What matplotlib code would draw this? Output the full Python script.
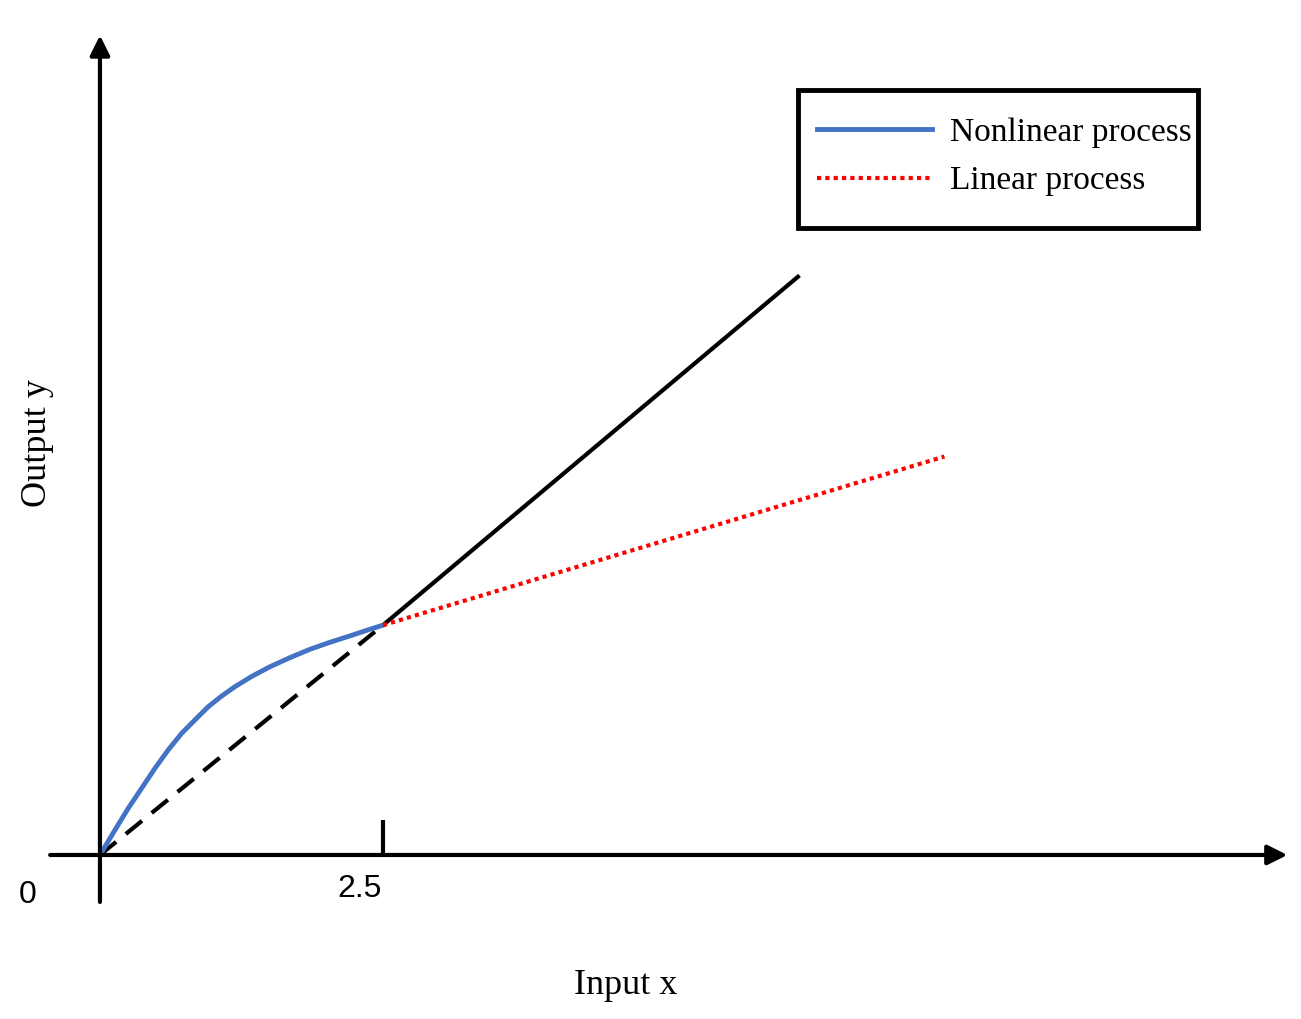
import numpy as np
import matplotlib.pyplot as plt
from matplotlib.patches import Rectangle

# values (the only labelled x value is the 2.5 tick)
nonlinear_x = [0, 0.133, 0.25, 0.368, 0.486, 0.603, 0.722, 0.839, 0.957, 1.075,
               1.193, 1.34, 1.502, 1.678, 1.855, 2.032, 2.208, 2.385, 2.5]
nonlinear_y = [0, 0.221, 0.413, 0.589, 0.766, 0.928, 1.075, 1.193, 1.31, 1.404,
               1.487, 1.577, 1.663, 1.743, 1.817, 1.879, 1.935, 1.994, 2.03]
linear_x = [2.5, 7.46]
linear_y = [2.03, 3.52]
tangent_x = [0, 2.5, 6.18]
tangent_y = [0, 2.03, 5.12]
tick_x = 2.5

fig = plt.figure(figsize=(13.01, 10.19), dpi=100)
ax = fig.add_axes([0, 0, 1, 1])
ax.set_xlim(-0.883, 10.61)
ax.set_ylim(-1.449, 7.553)
ax.axis('off')

# axes drawn as arrows
arrow = dict(arrowstyle='-|>,head_length=0.7,head_width=0.35', lw=3, color='black',
             mutation_scale=17, shrinkA=0, shrinkB=0)
ax.annotate('', xy=(10.49, 0), xytext=(-0.44, 0), arrowprops=arrow)
ax.annotate('', xy=(0, 7.24), xytext=(0, -0.415), arrowprops=arrow)
ax.plot([tick_x, tick_x], [0, 0.31], color='black', lw=3, solid_capstyle='butt')

# black reference line: dashed up to the tick, solid beyond
ax.plot(tangent_x[:2], tangent_y[:2], color='black', lw=3, ls=(0, (5, 3)))
ax.plot(tangent_x[1:], tangent_y[1:], color='black', lw=3, solid_capstyle='butt')

ax.plot(nonlinear_x, nonlinear_y, color='#4472C4', lw=3.5,
        solid_joinstyle='round', label='Nonlinear process')
ax.plot(linear_x, linear_y, color='#FF0000', lw=3, ls=(0, (1, 1)),
        dash_capstyle='butt', label='Linear process')

ax.text(-0.636, -0.353, '0', fontsize=23, family='Liberation Sans',
        ha='center', va='center')
ax.text(2.297, -0.30, '2.5', fontsize=23, family='Liberation Sans',
        ha='center', va='center')
ax.text(4.64, -1.15, 'Input x', fontsize=26, family='Liberation Serif',
        ha='center', va='center')
ax.text(-0.548, 3.64, 'Output y', fontsize=26, family='Liberation Serif',
        rotation=90, ha='center', va='center')

# legend entries, with a separate box around them (the box is tight on the right)
leg = ax.legend(loc='upper left', bbox_to_anchor=(817/1301, 1 - 117/1019),
                bbox_transform=fig.transFigure, borderaxespad=0, borderpad=0,
                prop={'family': 'Liberation Serif', 'size': 24},
                handlelength=3.45, handletextpad=0.55, labelspacing=0.55,
                frameon=False)
fig.patches.append(Rectangle((798/1301, 1 - 228/1019), 400/1301, 138/1019,
                             transform=fig.transFigure, fill=False,
                             edgecolor='black', lw=3.5))

plt.savefig('out.png', dpi=100)
